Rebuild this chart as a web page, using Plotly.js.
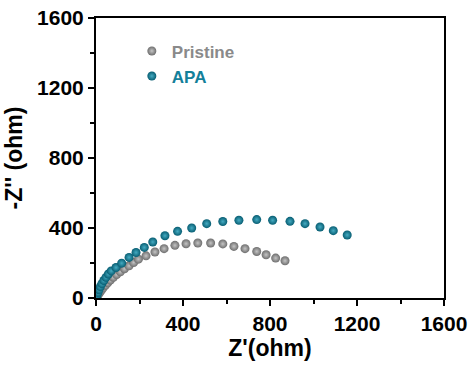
<!DOCTYPE html>
<html>
<head>
<meta charset="utf-8">
<script src="https://cdn.plot.ly/plotly-3.0.1.min.js"></script>
<style>html,body{margin:0;padding:0;background:#fff;}#chart{width:474px;height:366px;}</style>
</head>
<body>
<div id="chart"></div>
<script>
// Pristine
const pristineX = [3, 7, 12, 18, 25, 33, 43, 54, 66, 80, 95, 112, 131, 152, 173, 195, 230, 271, 313, 363, 414, 468, 527, 583, 634, 685, 739, 782, 826, 869];
const pristineY = [4, 12, 22, 33, 45, 58, 72, 87, 102, 118, 134, 150, 167, 184, 203, 222, 241, 263, 282, 301, 310, 314, 314, 309, 295, 282, 266, 247, 228, 213];
// APA
const apaX = [2, 5, 9, 14, 20, 27, 36, 46, 57, 70, 92, 118, 152, 184, 222, 261, 317, 375, 440, 509, 583, 657, 739, 812, 892, 961, 1030, 1091, 1155];
const apaY = [6, 18, 32, 48, 65, 82, 100, 118, 137, 155, 174, 199, 232, 260, 289, 320, 356, 381, 400, 425, 437, 444, 448, 444, 438, 425, 406, 385, 360];
const tickVals = [0, 400, 800, 1200, 1600];

const grayC = '#6e6e6e';
const tealC = '#075d72';
const FONT = 'Liberation Sans, Arial, sans-serif';

const traces = [
  {x: pristineX, y: pristineY, type: 'scatter', mode: 'markers',
   name: '<b><span style="color:#8a8a8a">Pristine</span></b>',
   marker: {size: 9, color: grayC, gradient: {type: 'radial', color: '#c4c4c4'}, line: {width: 0}}},
  {x: apaX, y: apaY, type: 'scatter', mode: 'markers',
   name: '<b><span style="color:#13809a">APA</span></b>',
   marker: {size: 9, color: tealC, gradient: {type: 'radial', color: '#45abc2'}, line: {width: 0}}}
];

const axisCommon = {
  range: [0, 1600], tickvals: tickVals, ticktext: tickVals.map(String),
  showline: true, linecolor: '#000', linewidth: 2, mirror: true,
  ticks: 'outside', ticklen: 6, tickwidth: 2, tickcolor: '#000',
  minor: {dtick: 200, ticks: 'outside', ticklen: 4, tickwidth: 2, tickcolor: '#000'},
  showgrid: false, zeroline: false,
  tickfont: {family: FONT, size: 21, color: '#000', weight: 'bold'}
};

const layout = {
  width: 474, height: 366,
  margin: {l: 96, r: 30, t: 18, b: 68},
  paper_bgcolor: '#fff', plot_bgcolor: '#fff',
  showlegend: true,
  legend: {x: 0.103, y: 0.945, xanchor: 'left', yanchor: 'top', bgcolor: 'rgba(0,0,0,0)',
           tracegroupgap: 0, font: {family: FONT, size: 17}},
  xaxis: Object.assign({}, axisCommon, {
    title: {text: "<b>Z'(ohm)</b>", standoff: 6, font: {family: FONT, size: 23, color: '#000'}}
  }),
  yaxis: Object.assign({}, axisCommon, {
    title: {text: "<b>-Z'' (ohm)</b>", standoff: 8, font: {family: FONT, size: 23, color: '#000'}}
  })
};

Plotly.newPlot('chart', traces, layout, {displayModeBar: false, staticPlot: true});
</script>
</body>
</html>
